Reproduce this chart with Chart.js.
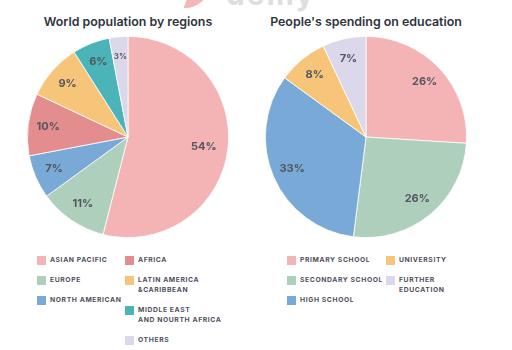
<!DOCTYPE html>
<html>
<head>
<meta charset="utf-8">
<script src="https://cdn.jsdelivr.net/npm/chart.js@4"></script>
<style>
  body { margin: 0; background: #fff; font-family: Inter, "Noto Sans", sans-serif; }
  #page { position: relative; width: 512px; height: 350px; overflow: hidden; }
  .title { position: absolute; top: 14px; font-size: 12.4px; font-weight: 600; color: #2f3440; text-align: center; width: 240px; }
  .pie { position: absolute; top: 36px; width: 202px; height: 202px; }
  .logo { position: absolute; top: -24px; left: 226px; font-size: 30px; font-weight: 700; color: #dedede; letter-spacing: 2px; }
  .mark { position: absolute; top: -16px; left: 188px; width: 20px; height: 24px; border-radius: 0 0 18px 0; background: #f2b7b7; transform: skewX(-20deg); }
  .legend { position: absolute; font-size: 6.8px; font-weight: 700; color: #50505c; letter-spacing: 0.6px; line-height: 10px; }
  .item { position: absolute; white-space: nowrap; }
  .item i { position: absolute; left: -13px; top: 1px; width: 9px; height: 9px; }
</style>
</head>
<body>
<div id="page">
  <div class="mark"></div>
  <div class="logo">uemy</div>
  <div class="title" style="left:8px">World population by regions</div>
  <div class="title" style="left:246px">People's spending on education</div>
  <div class="pie" style="left:27px"><canvas id="popChart"></canvas></div>
  <div class="pie" style="left:265px"><canvas id="eduChart"></canvas></div>
  <div class="legend" id="popLegend" style="left:50px;top:255px"></div>
  <div class="legend" id="eduLegend" style="left:300px;top:255px"></div>
</div>
<script>
const popLabels = ['ASIAN PACIFIC', 'EUROPE', 'NORTH AMERICAN', 'AFRICA', 'LATIN AMERICA\n&CARIBBEAN', 'MIDDLE EAST\nAND NOURTH AFRICA', 'OTHERS'];
const popValues = [54, 11, 7, 10, 9, 6, 3];
const popColors = ['#f4b4b6', '#afcfbd', '#79a9d6', '#e38d8e', '#f7c57a', '#4ab4b9', '#dcd8ec'];

const eduLabels = ['PRIMARY SCHOOL', 'SECONDARY SCHOOL', 'HIGH SCHOOL', 'UNIVERSITY', 'FURTHER\nEDUCATION'];
const eduValues = [26, 26, 33, 8, 7];
const eduColors = ['#f4b4b6', '#afcfbd', '#79a9d6', '#f7c57a', '#dcd8ec'];

// percent labels placed along each slice's bisector
const sliceLabels = {
    id: 'sliceLabels',
    afterDatasetsDraw(chart) {
        const ctx = chart.ctx;
        const meta = chart.getDatasetMeta(0);
        const values = chart.data.datasets[0].data;
        ctx.save();
        ctx.textAlign = 'center';
        ctx.textBaseline = 'middle';
        ctx.fillStyle = '#545660';
        meta.data.forEach((arc, i) => {
            const p = arc.getProps(['x', 'y', 'startAngle', 'endAngle', 'outerRadius'], true);
            const mid = (p.startAngle + p.endAngle) / 2;
            const f = values[i] > 50 ? 0.76 : 0.8;
            const x = p.x + Math.cos(mid) * p.outerRadius * f;
            const y = p.y + Math.sin(mid) * p.outerRadius * f;
            ctx.font = (values[i] < 5 ? '600 8px ' : '700 11px ') + 'Inter, sans-serif';
            ctx.fillText(values[i] + '%', x, y);
        });
        ctx.restore();
    }
};

function makePie(id, labels, values, colors) {
    return new Chart(document.getElementById(id), {
        type: 'pie',
        data: {
            labels: labels,
            datasets: [{
                data: values,
                backgroundColor: colors,
                borderColor: '#ffffff',
                borderWidth: 0.8
            }]
        },
        options: {
            responsive: true,
            maintainAspectRatio: false,
            animation: false,
            layout: { padding: 0 },
            plugins: { legend: { display: false }, tooltip: { enabled: false } }
        },
        plugins: [sliceLabels]
    });
}

makePie('popChart', popLabels, popValues, popColors);
makePie('eduChart', eduLabels, eduValues, eduColors);

// legends: [label index, x offset, y offset]
function buildLegend(el, labels, colors, places) {
    places.forEach(([i, x, y]) => {
        const d = document.createElement('div');
        d.className = 'item';
        d.style.left = x + 'px';
        d.style.top = y + 'px';
        d.innerHTML = '<i style="background:' + colors[i] + '"></i>' + labels[i].replace('\n', '<br>');
        el.appendChild(d);
    });
}
buildLegend(document.getElementById('popLegend'), popLabels, popColors,
    [[0, 0, 0], [1, 0, 20], [2, 0, 40], [3, 88, 0], [4, 88, 20], [5, 88, 50], [6, 88, 80]]);
buildLegend(document.getElementById('eduLegend'), eduLabels, eduColors,
    [[0, 0, 0], [1, 0, 20], [2, 0, 40], [3, 99, 0], [4, 99, 20]]);
</script>
</body>
</html>
